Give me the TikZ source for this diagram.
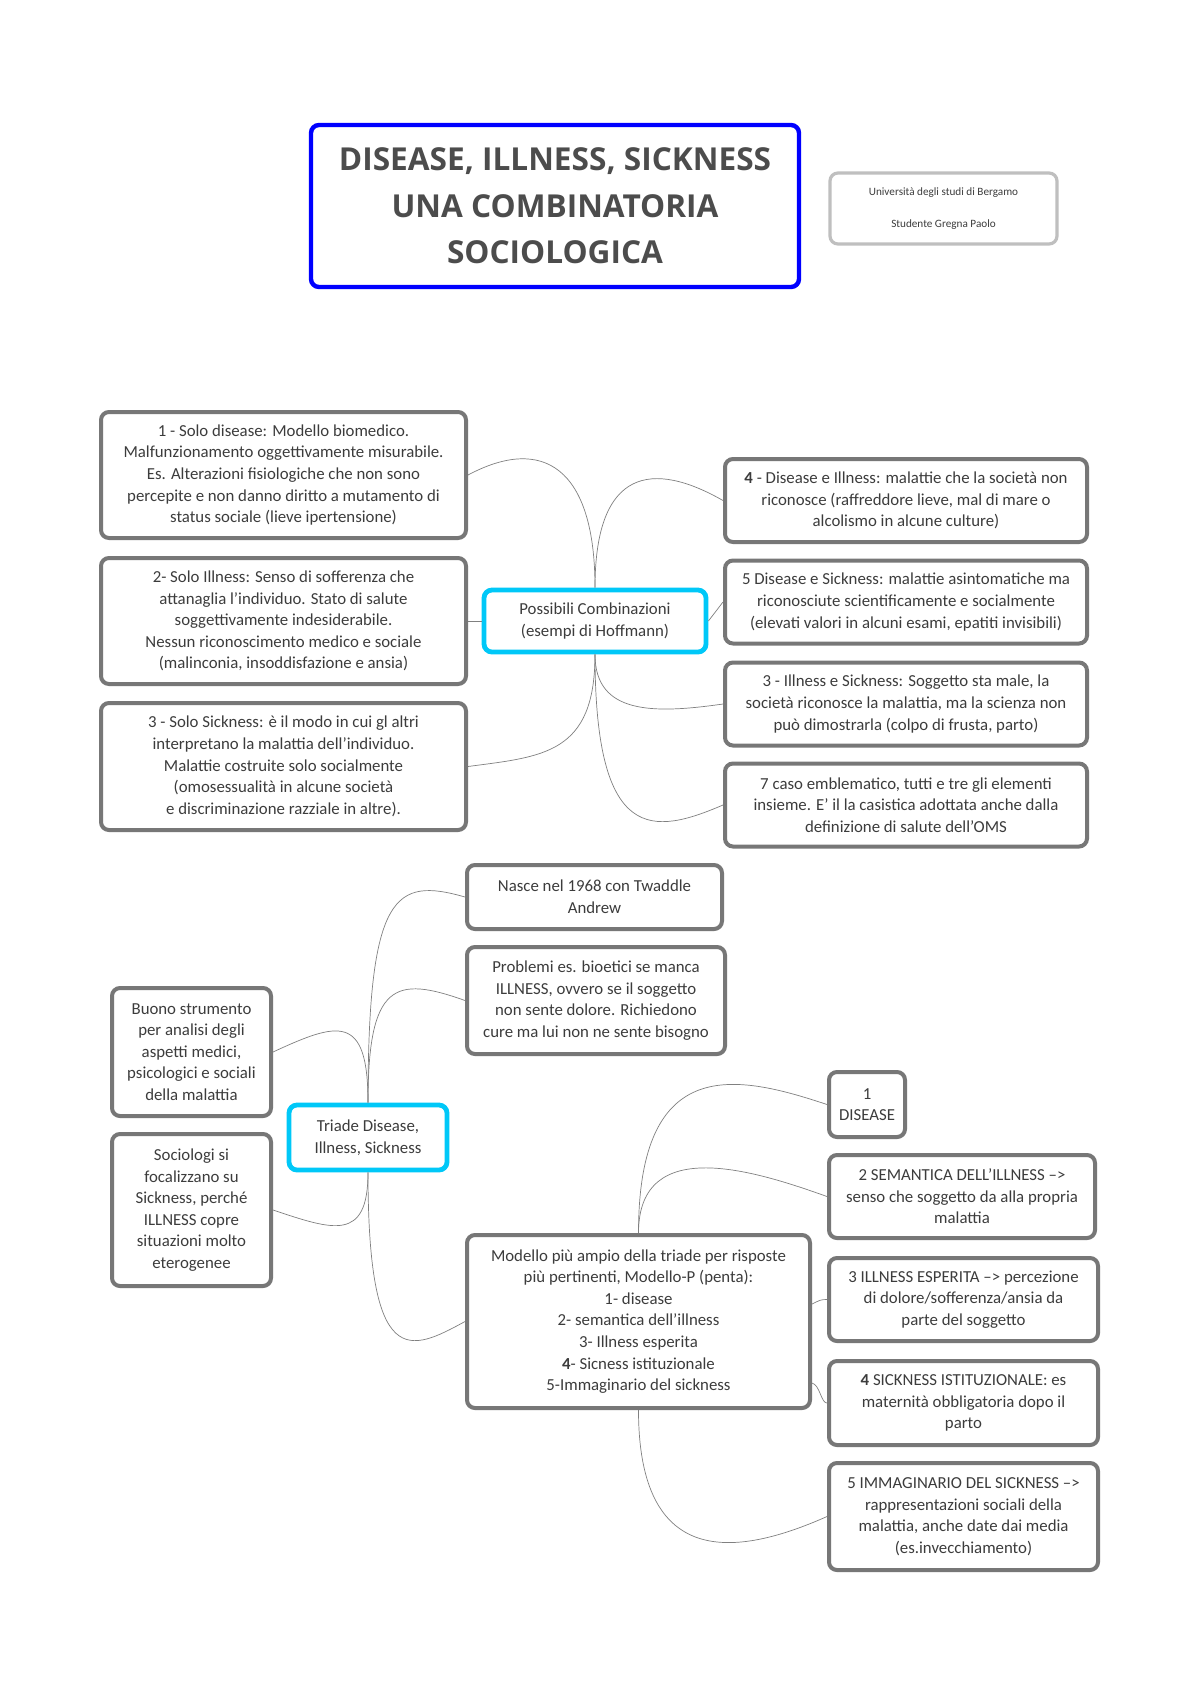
\documentclass[tikz,border=0pt]{standalone}
\usepackage{fontspec}
\setmainfont{Carlito}
\newfontfamily\titlefont{Open Sans}
\usepackage{tikz}
\usetikzlibrary{positioning}

\definecolor{boxgray}{HTML}{777777}
\definecolor{txtgray}{HTML}{3C3C3C}
\definecolor{hubcyan}{HTML}{00C8F8}
\definecolor{linkgray}{HTML}{808080}

\tikzset{
  card/.style={draw=boxgray, line width=2pt, rounded corners=4pt, fill=white,
    align=center, text=txtgray, font=\fontsize{8.4}{10.8}\selectfont, inner sep=2pt},
  hub/.style={card, draw=hubcyan, line width=2.4pt},
  link/.style={draw=linkgray, line width=0.35pt},
}

\begin{document}
\begin{tikzpicture}[x=0.5pt, y=-0.5pt]
    \useasboundingbox[fill=white] (0,0) rectangle (1200,1698);

    % header
    \node[card, draw=blue, line width=2.2pt, minimum width=244pt, minimum height=81pt,
      text=black!70, font=\titlefont\bfseries\fontsize{15.8}{23.3}\selectfont] (title) at (555,206)
      {DISEASE, ILLNESS, SICKNESS\\UNA COMBINATORIA\\SOCIOLOGICA};
    \node[card, draw=black!25, line width=1.6pt, minimum width=113.5pt, minimum height=35.5pt,
      font=\fontsize{5.6}{16}\selectfont] (uni) at (943.5,208.5)
      {Università degli studi di Bergamo\\Studente Gregna Paolo};

    % possibili combinazioni
    \node[hub, minimum width=111pt, minimum height=31pt] (poss) at (595,621)
      {Possibili Combinazioni\\(esempi di Hoffmann)};
    \node[card, minimum width=182.5pt, minimum height=63pt] (solodis) at (283.5,475)
      {1 - Solo disease: Modello biomedico.\\Malfunzionamento oggettivamente misurabile.\\Es. Alterazioni fisiologiche che non sono\\percepite e non danno diritto a mutamento di\\status sociale (lieve ipertensione)};
    \node[card, minimum width=182.5pt, minimum height=63pt] (soloill) at (283.5,621)
      {2- Solo Illness: Senso di sofferenza che\\attanaglia l'individuo. Stato di salute\\soggettivamente indesiderabile.\\Nessun riconoscimento medico e sociale\\(malinconia, insoddisfazione e ansia)};
    \node[card, minimum width=182.5pt, minimum height=63.5pt] (solosick) at (283.5,766.5)
      {3 - Solo Sickness: è il modo in cui gl altri\\interpretano la malattia dell'individuo.\\Malattie costruite solo socialmente\\(omosessualità in alcune società\\e discriminazione razziale in altre).};
    \node[card, minimum width=181pt, minimum height=41.5pt] (disill) at (906,500.5)
      {\textbf{4} - Disease e Illness: malattie che la società non\\riconosce (raffreddore lieve, mal di mare o\\alcolismo in alcune culture)};
    \node[card, minimum width=181pt, minimum height=41.5pt] (dissick) at (906,602)
      {5 Disease e Sickness: malattie asintomatiche ma\\riconosciute scientificamente e socialmente\\(elevati valori in alcuni esami, epatiti invisibili)};
    \node[card, minimum width=181pt, minimum height=41.5pt] (illsick) at (906,704)
      {3 - Illness e Sickness: Soggetto sta male, la\\società riconosce la malattia, ma la scienza non\\può dimostrarla (colpo di frusta, parto)};
    \node[card, minimum width=181pt, minimum height=41.5pt] (tutti) at (906,805)
      {7 caso emblematico, tutti e tre gli elementi\\insieme. E' il la casistica adottata anche dalla\\definizione di salute dell'OMS};

    \draw[link] (solodis.east) .. controls +(75,-40) and +(0,-120) .. (poss.north);
    \draw[link] (poss.north) .. controls +(0,-120) and +(-70,-40) .. (disill.west);
    \draw[link] (soloill.east) -- (poss.west);
    \draw[link] (poss.east) -- (dissick.west);
    \draw[link] (poss.south) .. controls +(0,100) and +(75,-10) .. (solosick.east);
    \draw[link] (poss.south) .. controls +(0,60) and +(-70,10) .. (illsick.west);
    \draw[link] (poss.south) .. controls +(0,190) and +(-70,30) .. (tutti.west);

    % triade
    \node[hub, minimum width=79pt, minimum height=32.5pt] (triade) at (368,1137.5)
      {Triade Disease,\\Illness, Sickness};
    \node[card, minimum width=79.5pt, minimum height=64pt] (buono) at (191.5,1052)
      {Buono strumento\\per analisi degli\\aspetti medici,\\psicologici e sociali\\della malattia};
    \node[card, minimum width=79.5pt, minimum height=76pt] (socio) at (191.5,1210)
      {Sociologi si\\focalizzano su\\Sickness, perché\\ILLNESS copre\\situazioni molto\\eterogenee};
    \node[card, minimum width=127.5pt, minimum height=32pt] (nasce) at (594.5,897)
      {Nasce nel 1968 con Twaddle\\Andrew};
    \node[card, minimum width=129pt, minimum height=53.5pt] (probl) at (596,1000.5)
      {Problemi es. bioetici se manca\\ILLNESS, ovvero se il soggetto\\non sente dolore. Richiedono\\cure ma lui non ne sente bisogno};
    \node[card, minimum width=171.5pt, minimum height=86.5pt] (penta) at (638.5,1321.5)
      {Modello più ampio della triade per risposte\\più pertinenti, Modello-P (penta):\\1- disease\\2- semantica dell'illness\\3- Illness esperita\\\textbf{4}- Sicness istituzionale\\5-Immaginario del sickness};

    \draw[link] (triade.north) .. controls +(0,-210) and +(-70,-20) .. (nasce.west);
    \draw[link] (triade.north) .. controls +(0,-120) and +(-70,-25) .. (probl.west);
    \draw[link] (triade.north) .. controls +(0,-90) and +(65,-30) .. (buono.east);
    \draw[link] (triade.south) .. controls +(0,70) and +(60,20) .. (socio.east);
    \draw[link] (triade.south) .. controls +(0,200) and +(-55,30) .. (penta.west);

    % modello P
    \node[card, minimum width=38pt, minimum height=32.5pt] (pdis) at (867,1104.5)
      {1\\DISEASE};
    \node[card, minimum width=133pt, minimum height=41.5pt] (psem) at (962,1196.5)
      {2 SEMANTICA DELL'ILLNESS -->\\senso che soggetto da alla propria\\malattia};
    \node[card, minimum width=134.5pt, minimum height=41.5pt] (pesp) at (963.5,1299.5)
      {3 ILLNESS ESPERITA --> percezione\\di dolore/sofferenza/ansia da\\parte del soggetto};
    \node[card, minimum width=134.5pt, minimum height=42pt] (pist) at (963.5,1403)
      {\textbf{4} SICKNESS ISTITUZIONALE: es\\maternità obbligatoria dopo il\\parto};
    \node[card, minimum width=134.5pt, minimum height=53.5pt] (pimm) at (963.5,1516.5)
      {5 IMMAGINARIO DEL SICKNESS -->\\rappresentazioni sociali della\\malattia, anche date dai media\\(es.invecchiamento)};

    \draw[link] (penta.north) .. controls +(0,-180) and +(-90,-30) .. (pdis.west);
    \draw[link] (penta.north) .. controls +(0,-100) and +(-70,-25) .. (psem.west);
    \draw[link] (penta.east |- 0,1304) .. controls +(8,-4) and +(-6,0) .. (pesp.west);
    \draw[link] (penta.east |- 0,1383) .. controls +(8,2) and +(-6,0) .. (pist.west);
    \draw[link] (penta.south) .. controls +(0,160) and +(-90,40) .. (pimm.west);
\end{tikzpicture}
\end{document}
